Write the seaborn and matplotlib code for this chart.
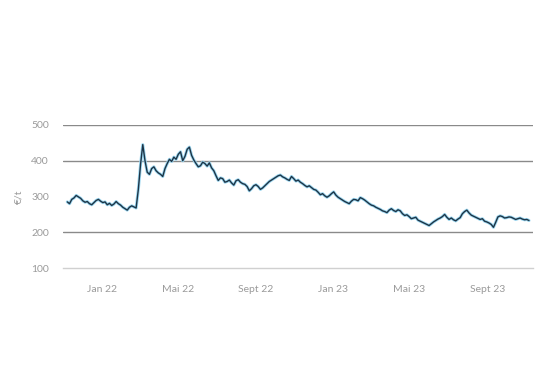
import pandas as pd
import numpy as np
import seaborn as sns
import matplotlib.pyplot as plt
import matplotlib.dates as mdates

# twice-weekly prices in EUR per tonne
start = '2021-11-08'
prices = [285, 280, 292, 296, 303, 299, 295, 288, 284, 286,
          280, 277, 283, 289, 292, 287, 283, 285, 277, 281,
          275, 279, 286, 280, 276, 270, 266, 262, 270, 274,
          271, 268, 320, 390, 445, 400, 368, 362, 378, 383,
          372, 366, 362, 356, 378, 392, 404, 398, 410, 404,
          418, 425, 400, 412, 432, 438, 415, 402, 392, 383,
          386, 396, 392, 385, 394, 380, 372, 358, 345, 352,
          350, 340, 342, 346, 338, 332, 344, 347, 340, 336,
          334, 328, 316, 322, 330, 333, 328, 320, 324, 330,
          336, 342, 346, 350, 354, 358, 360, 355, 352, 348,
          345, 356, 350, 343, 346, 340, 336, 331, 327, 330,
          325, 320, 318, 312, 305, 308, 302, 298, 302, 308,
          313, 304, 298, 294, 290, 286, 283, 280, 287, 292,
          291, 288, 297, 294, 290, 285, 280, 276, 274, 270,
          267, 264, 260, 258, 255, 262, 266, 261, 258, 263,
          260, 252, 247, 249, 244, 238, 240, 242, 234, 231,
          228, 225, 222, 219, 224, 229, 233, 237, 240, 244,
          250, 242, 236, 240, 235, 232, 237, 241, 252, 258,
          262, 254, 248, 245, 242, 239, 236, 238, 231, 229,
          226, 222, 214, 228, 243, 246, 244, 240, 241, 243,
          242, 239, 236, 238, 240, 237, 235, 236, 233]
tick_dates = ['2022-01-01', '2022-05-01', '2022-09-01',
              '2023-01-01', '2023-05-01', '2023-09-01']
tick_labels = ['Jan 22', 'Mai 22', 'Sept 22', 'Jan 23', 'Mai 23', 'Sept 23']
y_ticks = [100, 200, 300, 400, 500]

df = pd.DataFrame({'date': pd.date_range(start, periods=len(prices), freq='84h'),
                   'price': prices})

sns.set_style('white')
plt.rcParams['font.family'] = ['Lato', 'DejaVu Sans']

fig = plt.figure(figsize=(5.42, 3.88), dpi=100)
ax = fig.add_axes([0.116, 0.309, 0.867, 0.369])

sns.lineplot(data=df, x='date', y='price', ax=ax, color='#9ad6f0', linewidth=2.2)
sns.lineplot(data=df, x='date', y='price', ax=ax, color='#1d3446', linewidth=1.0)

ax.set_ylim(100, 500)
ax.set_xlim(pd.Timestamp('2021-11-01'), pd.Timestamp('2023-11-12'))
ax.set_yticks(y_ticks)
ax.set_xticks([mdates.date2num(pd.Timestamp(d)) for d in tick_dates])
ax.set_xticklabels(tick_labels)

ax.grid(axis='y', color='#8a8a8a', linewidth=1.0)
ax.yaxis.get_gridlines()[0].set_visible(False)
ax.yaxis.get_gridlines()[2].set_visible(False)
ax.set_axisbelow(True)

for s in ['top', 'right', 'left']:
    ax.spines[s].set_visible(False)
ax.spines['bottom'].set_color('#d0d0d0')
ax.spines['bottom'].set_linewidth(1.0)

ax.tick_params(axis='x', colors='#b5b5b5', length=6, width=1, labelsize=7.5, pad=6,
               labelcolor='#9a9a9a')
ax.tick_params(axis='y', length=0, labelsize=7.5, labelcolor='#9a9a9a', pad=10)

ax.set_xlabel('')
ax.set_ylabel('€/t', color='#9a9a9a', fontsize=7.5, labelpad=6)

fig.savefig('out.png', dpi=100)
